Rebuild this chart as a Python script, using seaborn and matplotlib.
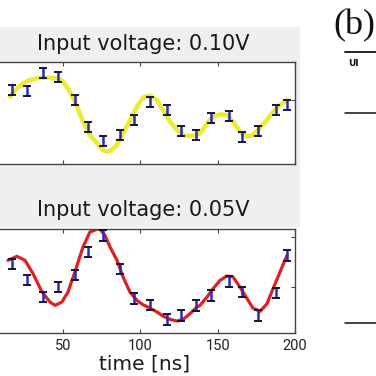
import matplotlib
matplotlib.use("Agg")
import matplotlib.pyplot as plt
from matplotlib.patches import Rectangle
from matplotlib.lines import Line2D
import seaborn as sns
import pandas as pd

# ---- data (y in arbitrary normalised units) ----
t_points = [17, 27, 37, 47, 58, 66, 76, 87, 96, 106, 117, 126, 136, 146, 157, 166, 176, 188, 195]

top_values = [0.725, 0.716, 0.889, 0.856, 0.627, 0.366, 0.225, 0.284, 0.431, 0.611,
              0.529, 0.324, 0.284, 0.448, 0.471, 0.268, 0.324, 0.529, 0.578]
top_err = [0.05] * 19

bot_values = [0.666, 0.507, 0.346, 0.442, 0.555, 0.779, 0.939, 0.618, 0.330, 0.272,
              0.131, 0.170, 0.266, 0.362, 0.497, 0.394, 0.170, 0.385, 0.747]
bot_err = [0.05] * 19

top_fit_t = [15.7, 20.2, 24.1, 28.6, 35.1, 41.6, 46.1, 50.0, 54.5, 59.0,
             62.9, 67.4, 72.0, 73.9, 75.8, 78.4, 80.4, 84.9, 88.8, 93.3,
             97.8, 101.7, 106.2, 110.8, 114.6, 119.2, 123.7, 127.6, 132.1, 136.6,
             138.6, 143.1, 147.0, 151.5, 156.0, 159.9, 164.4, 169.0, 172.8, 177.4,
             181.9, 185.8, 190.3, 194.8]
top_fit_v = [0.66, 0.742, 0.791, 0.824, 0.846, 0.846, 0.840, 0.807, 0.709, 0.562,
             0.415, 0.284, 0.203, 0.170, 0.137, 0.121, 0.127, 0.186, 0.301, 0.431,
             0.562, 0.650, 0.670, 0.627, 0.529, 0.415, 0.333, 0.284, 0.274, 0.284,
             0.301, 0.399, 0.464, 0.487, 0.480, 0.415, 0.317, 0.268, 0.284, 0.356,
             0.431, 0.513, 0.578, 0.627]

bot_fit_t = [14.4, 20.2, 25.4, 30.6, 36.4, 41.6, 44.8, 49.3, 53.2, 57.7,
             62.9, 67.4, 72.0, 73.9, 77.1, 80.4, 84.9, 88.8, 93.3, 97.8,
             101.7, 106.2, 110.8, 114.6, 119.2, 123.7, 127.6, 132.1, 136.6, 138.6,
             143.1, 147.0, 151.5, 156.0, 159.9, 164.4, 169.0, 172.8, 177.4, 181.9,
             185.8, 190.3, 194.8]
bot_fit_v = [0.699, 0.737, 0.699, 0.571, 0.394, 0.298, 0.266, 0.298, 0.394, 0.587,
             0.827, 0.971, 0.998, 0.998, 0.939, 0.827, 0.699, 0.539, 0.394, 0.314,
             0.272, 0.240, 0.202, 0.163, 0.131, 0.115, 0.131, 0.186, 0.250, 0.266,
             0.346, 0.426, 0.506, 0.548, 0.539, 0.442, 0.330, 0.240, 0.208, 0.282,
             0.426, 0.587, 0.747]

x_ticks = [0, 50, 100, 150, 200]
x_ticklabels = ["", "50", "100", "150", "200"]
titles = ["Input voltage: 0.10V", "Input voltage: 0.05V"]
x_label = "time [ns]"
top_yticks = [0.63]
bot_yticks = [0.44, 0.92]

# ---- figure ----
sns.set_theme(style="white")
plt.rcParams["font.family"] = ["DejaVu Sans"]

W = H = 376
fig = plt.figure(figsize=(3.76, 3.76), dpi=100)
fig.patch.set_facecolor("white")

def fx(px):
    return px / W

def fy(py):
    return 1 - py / H

# grey panel background (behind the axes)
fig.patches.append(Rectangle((0, fy(227)), fx(300), fy(27) - fy(227),
                             transform=fig.transFigure, facecolor="#efefef",
                             edgecolor="none", zorder=-5))

ax_left = fx(-14.3)
ax_w = fx(309.3)
ax_top = fig.add_axes([ax_left, fy(164), ax_w, fy(62) - fy(164)])
ax_bot = fig.add_axes([ax_left, fy(333), ax_w, fy(229) - fy(333)])
ax_top.set_zorder(1)
ax_bot.set_zorder(1)

panels = [
    (ax_top, top_fit_t, top_fit_v, top_values, top_err, "#eeea30", 3.2, top_yticks),
    (ax_bot, bot_fit_t, bot_fit_v, bot_values, bot_err, "#e02020", 2.3, bot_yticks),
]

for ax, ft, fv, vals, err, col, lw, yt in panels:
    ax.set_facecolor("white")
    df = pd.DataFrame({"t": ft, "v": fv})
    sns.lineplot(data=df, x="t", y="v", ax=ax, color=col, linewidth=lw,
                 sort=False, zorder=2)
    _, caps, bars = ax.errorbar(t_points, vals, yerr=err, fmt="none",
                                ecolor="#2a2ac0", elinewidth=1.8, capsize=2.9,
                                capthick=1.4, zorder=3)
    for c in caps:
        c.set_markeredgecolor("#151530")
        c.set_color("#151530")
    ax.set_xlim(0, 200)
    ax.set_ylim(0, 1)
    ax.set_xticks(x_ticks)
    ax.set_yticks(yt)
    ax.set_yticklabels([])
    ax.set_xlabel("")
    ax.set_ylabel("")
    ax.tick_params(direction="in", length=3, width=0.8, color="#444444",
                   top=True, right=True, bottom=True, left=True, pad=4,
                   labelsize=10, labelcolor="#222222")
    for s in ax.spines.values():
        s.set_color("#444444")
        s.set_linewidth(1.0)
        s.set_visible(True)

ax_top.set_xticklabels([])
ax_bot.set_xticklabels(x_ticklabels)
for lab in ax_bot.get_xticklabels():
    lab.set_family(["Roboto", "DejaVu Sans"])
    lab.set_fontsize(10.5)

# titles
fig.text(fx(143), fy(49.5), titles[0], ha="center", va="baseline",
         fontsize=15, color="#1a1a1a")
fig.text(fx(143), fy(216), titles[1], ha="center", va="baseline",
         fontsize=15, color="#1a1a1a")
fig.text(fx(145), fy(369), x_label, ha="center", va="baseline",
         fontsize=14.5, color="#1a1a1a")

# right-hand panel fragment (b)
fig.text(fx(333), fy(34), "(b)", ha="left", va="baseline", fontsize=26,
         family=["Liberation Serif", "DejaVu Serif"], color="#111111")
fig.lines.append(Line2D([fx(345), 1.0], [fy(52), fy(52)], transform=fig.transFigure,
                        color="#111111", linewidth=1.3))
fig.text(fx(348), fy(63), "Ul", ha="left", va="center", fontsize=6.5,
         fontweight="bold", color="#111111")
fig.lines.append(Line2D([fx(345), 1.0], [fy(113), fy(113)], transform=fig.transFigure,
                        color="#111111", linewidth=1.1))
fig.lines.append(Line2D([fx(345), 1.0], [fy(323), fy(323)], transform=fig.transFigure,
                        color="#111111", linewidth=1.1))

fig.savefig("out.png", dpi=100, facecolor="white")
